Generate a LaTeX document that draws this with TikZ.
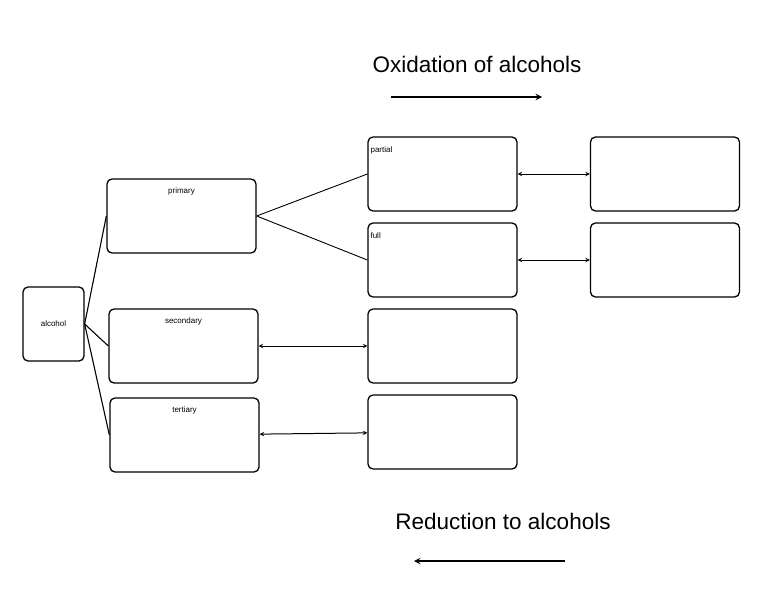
\documentclass[tikz,border=0pt]{standalone}
\usepackage{fontspec}
\setmainfont{Liberation Sans}
\usetikzlibrary{arrows, positioning}
\begin{document}
\begin{tikzpicture}[x=1pt,y=-1pt]
		\tikzstyle{Box} = [rectangle, rounded corners=5pt, minimum width=149pt, minimum height=74pt, draw=black, line width=1.3pt, fill=white]
		\tikzstyle{Tag} = [font=\fontsize{8}{9}\selectfont, inner sep=1pt]
		\tikzstyle{arrow} = [line width=1.8pt,->,>=stealth]
		\tikzstyle{link} = [line width=1pt,<->,>=stealth]
		
		\useasboundingbox (0,0) rectangle (768,594);
		
		\node (alcohol) [Box, minimum width=61pt] at (53.5,324) {};
		\node (primary) [Box] at (181.5,216) {};
		\node (secondary) [Box] at (183.5,346) {};
		\node (tertiary) [Box] at (184.5,435) {};
		\node (partial) [Box] at (442.5,174) {};
		\node (full) [Box] at (442.5,260) {};
		\node (secProduct) [Box] at (442.5,346) {};
		\node (terProduct) [Box] at (442.5,432) {};
		\node (partialProduct) [Box] at (665,174) {};
		\node (fullProduct) [Box] at (665,260) {};
		
		\node[Tag] at (alcohol.center) {alcohol};
		\node[Tag, below=8pt of primary.north] {primary};
		\node[Tag, below=8pt of secondary.north] {secondary};
		\node[Tag, below=8pt of tertiary.north] {tertiary};
		\node[Tag, anchor=north west] at ([xshift=2pt,yshift=-9pt]partial.north west) {partial};
		\node[Tag, anchor=north west] at ([xshift=2pt,yshift=-9pt]full.north west) {full};
		
		\draw [line width=1.1pt] (alcohol.east) -- (primary.west);
		\draw [line width=1.1pt] (alcohol.east) -- (secondary.west);
		\draw [line width=1.1pt] (alcohol.east) -- (tertiary.west);
		\draw [line width=0.9pt] (primary.east) -- (partial.west);
		\draw [line width=0.9pt] (primary.east) -- (full.west);
		\draw [link] (partial) -- (partialProduct);
		\draw [link] (full) -- (fullProduct);
		\draw [link] (secondary) -- (secProduct);
		\draw [link] (tertiary) -- (terProduct);
		
		\node (oxTitle) [font=\fontsize{22.5}{26}\selectfont] at (477,64) {Oxidation of alcohols};
		\coordinate (oxStart) at (391,97);
		\coordinate (oxEnd) at (542,97);
		\draw [arrow] (oxStart) -- (oxEnd);
		\node (redTitle) [font=\fontsize{22.5}{26}\selectfont] at (503,521) {Reduction to alcohols};
		\coordinate (redStart) at (565,561);
		\coordinate (redEnd) at (414,561);
		\draw [arrow] (redStart) -- (redEnd);
\end{tikzpicture}
\end{document}
